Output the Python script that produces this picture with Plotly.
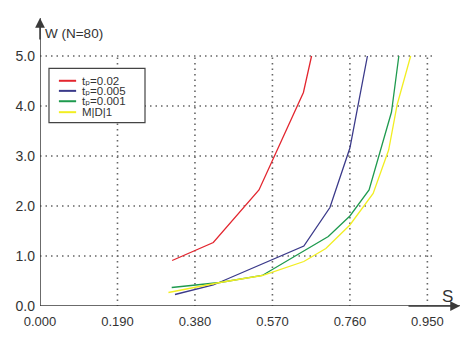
import plotly.graph_objects as go

# ---- data ----
series_names = ["tₚ=0.02", "tₚ=0.005", "tₚ=0.001", "M|D|1"]
series_colors = ["#e3262f", "#3b3a8a", "#1e9a4e", "#f2ee22"]

s_red = [0.324, 0.425, 0.537, 0.646, 0.666]
w_red = [0.91, 1.27, 2.32, 4.27, 5.0]

s_blue = [0.331, 0.425, 0.647, 0.711, 0.760, 0.780, 0.803]
w_blue = [0.23, 0.42, 1.20, 1.97, 3.16, 4.03, 5.0]

s_green = [0.323, 0.441, 0.545, 0.707, 0.760, 0.807, 0.862, 0.880]
w_green = [0.37, 0.47, 0.61, 1.39, 1.80, 2.32, 3.88, 5.0]

s_yellow = [0.315, 0.441, 0.545, 0.647, 0.701, 0.760, 0.817, 0.855, 0.876, 0.909]
w_yellow = [0.27, 0.47, 0.61, 0.89, 1.15, 1.62, 2.25, 3.12, 4.03, 5.0]

x_ticks = [0.0, 0.19, 0.38, 0.57, 0.76, 0.95]
x_tick_labels = ["0.000", "0.190", "0.380", "0.570", "0.760", "0.950"]
y_ticks = [0.0, 1.0, 2.0, 3.0, 4.0, 5.0]
y_tick_labels = ["0.0", "1.0", "2.0", "3.0", "4.0", "5.0"]

x_max = 1.03
y_max = 5.76
grid_x_end = 0.962
grid_y_end = 5.0

axis_color = "#3a3a3a"
grid_color = "#666666"
text_color = "#333333"
font_family = "Liberation Sans, Arial, DejaVu Sans, sans-serif"

fig = go.Figure()
all_s = [s_red, s_blue, s_green, s_yellow]
all_w = [w_red, w_blue, w_green, w_yellow]
for s, w, name, c in zip(all_s, all_w, series_names, series_colors):
    fig.add_trace(go.Scatter(x=s, y=w, mode="lines", name=name,
                             line=dict(color=c, width=1.3), showlegend=False))

shapes = []
# dotted grid
for xv in x_ticks[1:]:
    shapes.append(dict(type="line", xref="x", yref="y", x0=xv, x1=xv, y0=-0.12, y1=grid_y_end,
                       line=dict(color=grid_color, width=1.6, dash="1.5px,4px"), layer="below"))
for yv in y_ticks[1:]:
    shapes.append(dict(type="line", xref="x", yref="y", x0=0, x1=grid_x_end, y0=yv, y1=yv,
                       line=dict(color=grid_color, width=1.6, dash="1.5px,4px"), layer="below"))

# manual legend (paper coords)
lx0, lx1, ly0, ly1 = 0.0214, 0.25, 0.6365, 0.825
shapes.append(dict(type="rect", xref="paper", yref="paper", x0=lx0, x1=lx1, y0=ly0, y1=ly1,
                   line=dict(color="#444444", width=1.2), fillcolor="white", layer="above"))
row_y = [0.782, 0.747, 0.711, 0.673]
annotations = []
for yv, name, c in zip(row_y, series_names, series_colors):
    shapes.append(dict(type="line", xref="paper", yref="paper", x0=0.045, x1=0.086, y0=yv, y1=yv,
                       line=dict(color=c, width=2), layer="above"))
    annotations.append(dict(xref="paper", yref="paper", x=0.097, y=yv, text=name, showarrow=False,
                            xanchor="left", yanchor="middle", borderpad=0,
                            font=dict(size=11.5, color=text_color, family=font_family)))

# axis arrows
annotations.append(dict(x=x_max, y=0, xref="x", yref="y", ax=0.9, ay=0, axref="x", ayref="y",
                        text="", showarrow=True, arrowhead=2, arrowsize=1.3, arrowwidth=1.5,
                        arrowcolor=axis_color))
annotations.append(dict(x=0, y=y_max, xref="x", yref="y", ax=0, ay=5.3, axref="x", ayref="y",
                        text="", showarrow=True, arrowhead=2, arrowsize=1.3, arrowwidth=1.5,
                        arrowcolor=axis_color))
# axis titles
annotations.append(dict(x=0.011, y=5.45, xref="x", yref="y", text="W (N=80)", showarrow=False,
                        xanchor="left", yanchor="middle", borderpad=0,
                        font=dict(size=13.5, color=text_color, family=font_family)))
annotations.append(dict(x=1.0, y=0.2, xref="x", yref="y", text="S", showarrow=False,
                        xanchor="center", yanchor="middle",
                        font=dict(size=17, color=text_color, family=font_family)))

fig.update_layout(
    width=474, height=351,
    margin=dict(l=40, r=14, t=18, b=45),
    paper_bgcolor="white", plot_bgcolor="white",
    shapes=shapes, annotations=annotations,
    showlegend=False,
    font=dict(family=font_family, color=text_color),
)
fig.update_xaxes(range=[0, x_max], tickvals=x_ticks, ticktext=x_tick_labels,
                 showgrid=False, zeroline=False, showline=False,
                 ticks="", ticklabelstandoff=6,
                 tickfont=dict(size=13, color=text_color, family=font_family))
fig.update_yaxes(range=[0, y_max], tickvals=y_ticks, ticktext=y_tick_labels,
                 showgrid=False, zeroline=False, showline=False,
                 ticks="", ticklabelstandoff=4,
                 tickfont=dict(size=14, color=text_color, family=font_family))
# axis lines
fig.add_shape(type="line", xref="x", yref="y", x0=0, x1=x_max, y0=0, y1=0,
              line=dict(color=axis_color, width=1.5), layer="above")
fig.add_shape(type="line", xref="x", yref="y", x0=0, x1=0, y0=0, y1=y_max,
              line=dict(color=axis_color, width=1.5), layer="above")

fig.write_html("out.html")
